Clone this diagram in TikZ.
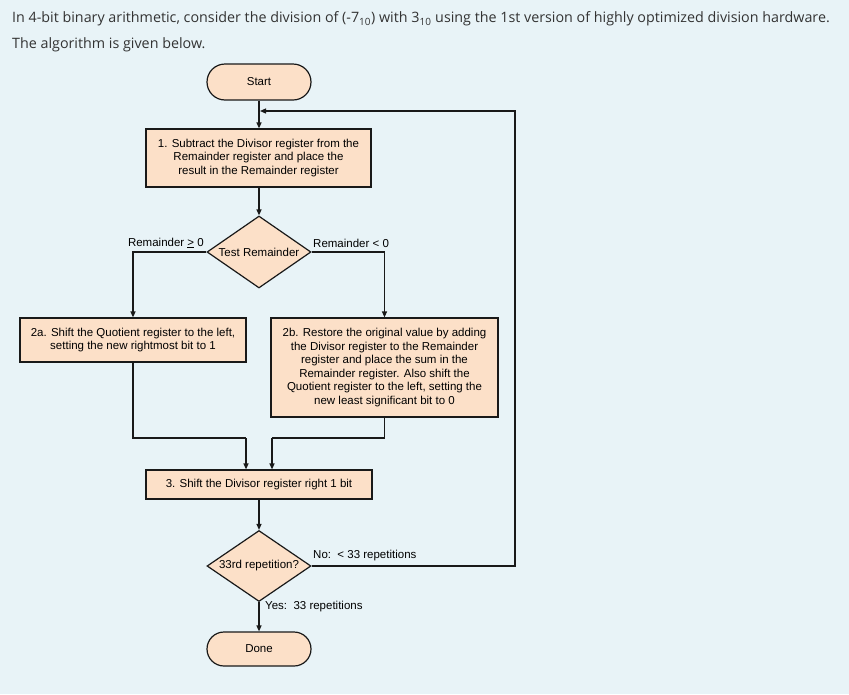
\documentclass[tikz,border=0pt]{standalone}
\usepackage{fontspec}
\setmainfont{Liberation Sans}
\newfontfamily\topfont{Open Sans}
\usetikzlibrary{shapes.geometric,shapes.misc,arrows.meta}
\definecolor{bg}{RGB}{232,243,247}
\definecolor{peach}{RGB}{252,224,200}
\definecolor{edge}{RGB}{25,25,25}
\definecolor{toptext}{RGB}{51,51,51}
\begin{document}
\begin{tikzpicture}[x=1pt,y=-1pt,
  dfont/.style={font=\fontsize{11.5}{13.6}\selectfont},
  box/.style={draw=edge,fill=peach,line width=1.2pt,inner sep=0pt,align=center,dfont},
  term/.style={box,rounded rectangle,minimum width=104pt,minimum height=36pt},
  dia/.style={box,diamond,minimum width=104pt,minimum height=72pt},
  lbl/.style={inner sep=0pt,dfont},
  arr/.style={draw=edge,line width=1.2pt,-{Triangle[length=6pt,width=5pt]}},
  ln/.style={draw=edge,line width=1.2pt}]
\fill[bg] (0,0) rectangle (849,694);
\useasboundingbox (0,0) rectangle (849,694);
% header text
\node[anchor=west,inner sep=0pt,text=toptext,font=\topfont\fontsize{14.3}{17}\selectfont] (t1) at (12,19)
  {In 4-bit binary arithmetic, consider the division of (-7\textsubscript{10}) with 3\textsubscript{10} using the 1st version of highly optimized division hardware.};
\node[anchor=west,inner sep=0pt,text=toptext,font=\topfont\fontsize{14.3}{17}\selectfont] (t2) at (12,45)
  {The algorithm is given below.};
% nodes
\node[term] (start) at (259,82) {Start};
\node[box,minimum width=225pt,minimum height=58pt] (b1) at (258.5,158)
  {1. Subtract the Divisor register from the\\Remainder register and place the\\result in the Remainder register};
\node[dia] (d1) at (259,252) {};
\node[lbl] (d1t) at (d1) {Test Remainder};
\node[box,minimum width=226pt,minimum height=44pt] (b2a) at (133,340)
  {2a. Shift the Quotient register to the left,\\setting the new rightmost bit to 1};
\node[box,minimum width=227pt,minimum height=99pt] (b2b) at (384.5,367.5)
  {2b. Restore the original value by adding\\the Divisor register to the Remainder\\register and place the sum in the\\Remainder register. Also shift the\\Quotient register to the left, setting the\\new least significant bit to 0};
\node[box,minimum width=226pt,minimum height=29pt] (b3) at (259,484.5)
  {3. Shift the Divisor register right 1 bit};
\node[dia,minimum height=71pt] (d2) at (259,566) {};
\node[lbl] (d2t) at (d2) {33rd repetition?};
\node[term,minimum height=34pt] (done) at (259,649) {Done};
% labels
\node[lbl,anchor=east] (lge) at (204,243) {Remainder \underline{>} 0};
\node[lbl,anchor=west] (llt) at (313,243) {Remainder < 0};
\node[lbl,anchor=west] (lno) at (313,556) {No:\ \ < 33 repetitions};
\node[lbl,anchor=west] (lyes) at (265,607) {Yes:\ \ 33 repetitions};
% helper coordinates
\coordinate (join) at (259,111);
\coordinate (loopB) at (515,566);
\coordinate (loopT) at (515,111);
\coordinate (m1) at (246,438);
\coordinate (m2) at (272,438);
% connectors
\draw[arr] (start.south) -- (b1.north -| start.south);
\draw[arr] (b1.south -| d1.north) -- (d1.north);
\draw[arr] (d1.west) -| (b2a.north);
\draw[arr] (d1.east) -| (b2b.north);
\draw[ln] (b2a.south) |- (m1);
\draw[arr] (m1) -- (b3.north -| m1);
\draw[ln] (b2b.south) |- (m2);
\draw[arr] (m2) -- (b3.north -| m2);
\draw[arr] (b3.south -| d2.north) -- (d2.north);
\draw[arr] (d2.south) -- (done.north);
\draw[arr] (d2.east) -- (loopB) -- (loopT) -- ([xshift=1pt]join);
\end{tikzpicture}
\end{document}
